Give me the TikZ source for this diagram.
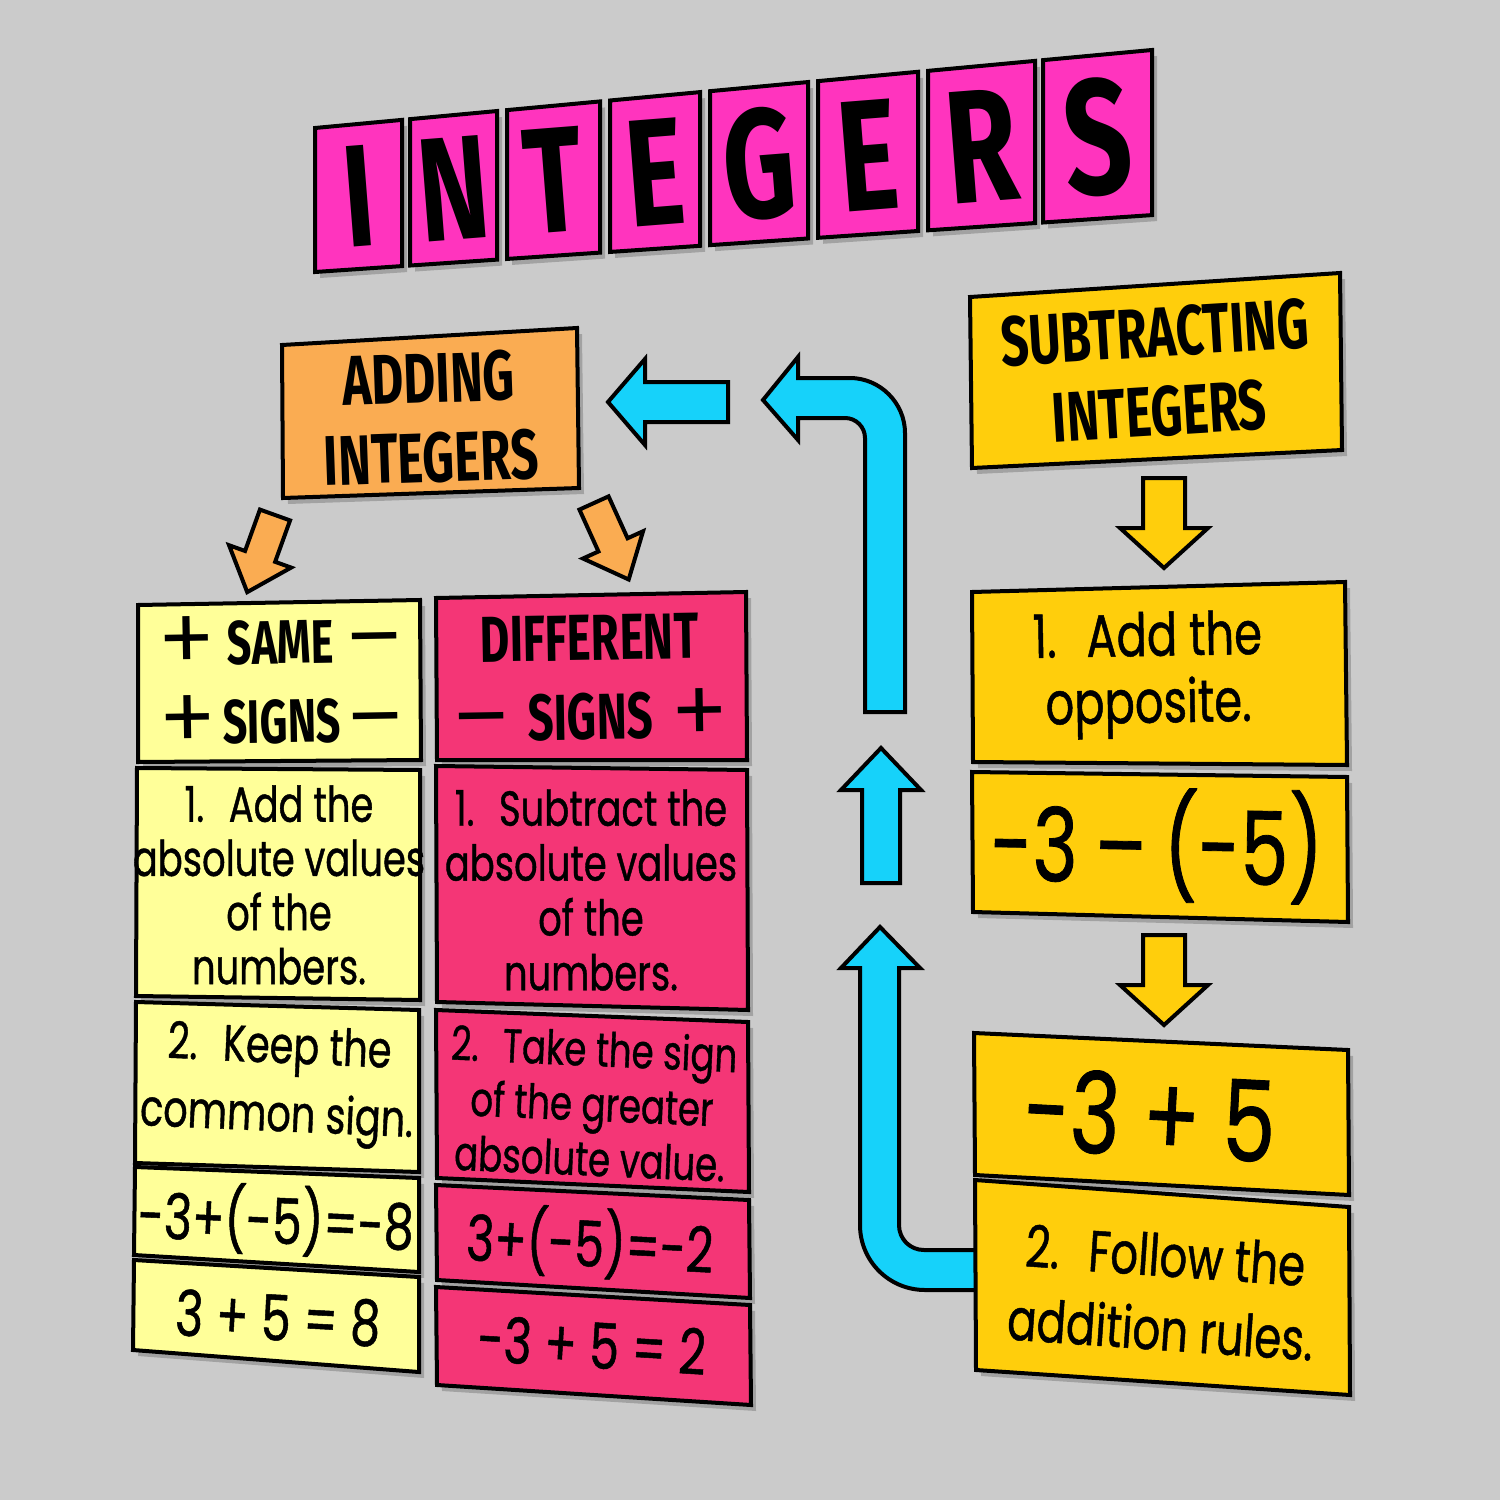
\documentclass[tikz,border=0pt]{standalone}
\usepackage{fontspec}
\setmainfont{Poppins}
\newfontfamily\titlefont[FakeStretch=0.72]{Fira Sans}
\newfontfamily\headfont[FakeStretch=0.7]{Fira Sans}
\newfontfamily\bodyfont[FakeStretch=0.75,FakeBold=0.8]{Poppins}
\newfontfamily\signfont{Poppins}

\definecolor{board}{RGB}{203,203,203}
\definecolor{tilepink}{RGB}{255,52,190}
\definecolor{addorange}{RGB}{250,172,82}
\definecolor{sameyellow}{RGB}{255,255,153}
\definecolor{diffpink}{RGB}{244,54,118}
\definecolor{subgold}{RGB}{255,206,12}
\definecolor{arrowcyan}{RGB}{22,210,250}

\tikzset{
  card/.style={draw=black,line width=0.4mm,line join=miter},
  cast/.style={fill=black,opacity=0.2},
  tile/.style={card,fill=tilepink},
  titleletter/.style={font=\titlefont\bfseries\fontsize{41}{41}\selectfont,rotate=4.5,inner sep=0pt},
  headtext/.style={font=\headfont\bfseries\fontsize{#1}{22.5}\selectfont,align=center,inner sep=0pt},
  bodytext/.style 2 args={font=\bodyfont\fontsize{#1}{#2}\selectfont,align=center,inner sep=0pt},
  sumtext/.style={font=\bodyfont\fontsize{#1}{#1}\selectfont,inner sep=0pt},
  fatline/.style={draw=black,line width=0.4mm,line join=miter,fill=#1}
}

% large thin sign for the heading cards
\newcommand{\bigsign}[2]{\smash{\raisebox{#2}{\signfont\mdseries\fontsize{24}{20}\selectfont #1}}}

% card with its shadow: fill, then the four corners
\newcommand{\card}[5]{%
  \fill[cast,shift={(5,6)}] #2 -- #3 -- #4 -- #5 -- cycle;
  \filldraw[card,fill=#1] #2 -- #3 -- #4 -- #5 -- cycle;}

% straight fat arrow: colour, start, angle, length, shaft half, head half, head length
\newcommand{\fatarrow}[7]{%
  \begin{scope}[shift={#2},rotate=#3]
    \filldraw[fatline=#1] (0,-#5) -- ({#4-#7},-#5) -- ({#4-#7},-#6) -- (#4,0)
      -- ({#4-#7},#6) -- ({#4-#7},#5) -- (0,#5) -- cycle;
  \end{scope}}

\begin{document}
\begin{tikzpicture}[x=0.01cm,y=-0.01cm]

  \fill[board] (0,0) rectangle (1500,1500);
  \useasboundingbox (0,0) rectangle (1500,1500);

  % title tiles
  \foreach \a/\b/\l [count=\i] in {315/402/I,410/497/N,507/600/T,610/700/E,710/808/G,818/918/E,928/1035/R,1043/1152/S}{
    \pgfmathsetmacro\ta{128-0.0932*(\a-315)}
    \pgfmathsetmacro\tb{128-0.0932*(\b-315)}
    \pgfmathsetmacro\ba{272-0.068*(\a-315)}
    \pgfmathsetmacro\bb{272-0.068*(\b-315)}
    \pgfmathsetmacro\hh{(\ba+\bb-\ta-\tb)/288}
    \card{tilepink}{(\a,\ta)}{(\b,\tb)}{(\b,\bb)}{(\a,\ba)}
    \node[titleletter,scale=\hh] (letter\i) at ({(\a+\b)/2},{(\ta+\tb+\ba+\bb)/4}) {\l};
  }

  % arrows
  \fatarrow{addorange}{(275,515)}{250.2}{82}{16}{33}{38}
  \fatarrow{addorange}{(594,503)}{294.4}{84}{16}{33}{38}
  \fatarrow{subgold}{(1164,478)}{270}{90}{21}{44}{40}
  \fatarrow{subgold}{(1164,935)}{270}{90}{21}{44}{40}
  \fatarrow{arrowcyan}{(728,402)}{180}{120}{20}{43}{37}
  \fatarrow{arrowcyan}{(881,883)}{90}{135}{19}{40}{42}

  \filldraw[fatline=arrowcyan] (865,712) -- (865,438) .. controls (865,427) and (856,418) .. (845,418)
    -- (798,418) -- (798,440) -- (763,400) -- (798,357) -- (798,378) -- (850,378)
    .. controls (880,378) and (905,403) .. (905,433) -- (905,712) -- cycle;
  \filldraw[fatline=arrowcyan] (899,968) -- (899,1225) .. controls (899,1239) and (910,1250) .. (924,1250)
    -- (985,1250) -- (985,1290) -- (925,1290) .. controls (889,1290) and (860,1261) .. (860,1225)
    -- (860,968) -- (841,968) -- (880,927) -- (920,968) -- cycle;

  % cards
  \card{addorange}{(282,345)}{(577,328)}{(579,488)}{(283,498)}
  \card{subgold}{(970,297)}{(1340,273)}{(1342,450)}{(972,468)}

  \card{sameyellow}{(138,605)}{(420,600)}{(421,760)}{(138,762)}
  \card{sameyellow}{(137,768)}{(420,770)}{(420,1000)}{(136,996)}
  \card{sameyellow}{(136,1002)}{(419,1010)}{(419,1172)}{(135,1163)}
  \card{sameyellow}{(135,1167)}{(419,1178)}{(419,1272)}{(134,1255)}
  \card{sameyellow}{(134,1260)}{(419,1277)}{(419,1372)}{(133,1350)}

  \card{diffpink}{(436,598)}{(746,592)}{(747,760)}{(437,760)}
  \card{diffpink}{(436,766)}{(747,770)}{(748,1010)}{(437,1002)}
  \card{diffpink}{(436,1010)}{(748,1022)}{(749,1192)}{(437,1178)}
  \card{diffpink}{(436,1185)}{(749,1200)}{(750,1298)}{(437,1280)}
  \card{diffpink}{(436,1287)}{(750,1305)}{(751,1405)}{(437,1385)}

  \card{subgold}{(972,592)}{(1345,582)}{(1347,765)}{(973,762)}
  \card{subgold}{(972,772)}{(1347,777)}{(1348,922)}{(973,912)}
  \card{subgold}{(974,1033)}{(1348,1050)}{(1349,1195)}{(975,1175)}
  \card{subgold}{(975,1180)}{(1349,1207)}{(1350,1395)}{(976,1370)}

  % texts
  \node[headtext=20,rotate=2] (addhead) at (430,418) {ADDING\\INTEGERS};
  \node[headtext=20,rotate=3.5] (subhead) at (1157,372) {SUBTRACTING\\INTEGERS};
  \node[headtext=17.5,rotate=1] (samehead) at (281,682)
    {\makebox[2.45cm]{\bigsign{+}{-1pt}\hfill SAME\hfill\bigsign{–}{-1.5pt}}\\
     \makebox[2.45cm]{\bigsign{+}{-1pt}\hfill SIGNS\hfill\bigsign{–}{-1.5pt}}};
  \node[headtext=18.5,rotate=1] (diffhead) at (590,678)
    {DIFFERENT\\\makebox[2.75cm]{\bigsign{–}{-1.5pt}\hfill SIGNS\hfill\bigsign{+}{-1pt}}};

  \node[bodytext={14}{15.4}] (samestep1) at (279,885) {1.\enspace Add the\\absolute values\\of the\\numbers.};
  \node[bodytext={14}{15.6}] (diffstep1) at (591,890) {1.\enspace Subtract the\\absolute values\\of the\\numbers.};
  \node[bodytext={14.5}{19.4},rotate=-2.5] (samestep2) at (278,1085) {2.\enspace Keep the\\common sign.};
  \node[bodytext={13.5}{15.6}, rotate=-2.5] (diffstep2) at (592,1103) {2.\enspace Take the sign\\of the greater\\absolute value.};

  \node[sumtext=18,rotate=-2.5] (sameex1) at (276,1220) {-3+(-5)=-8};
  \node[sumtext=18,rotate=-3] (sameex2) at (278,1318) {3 + 5 = 8};
  \node[sumtext=18,rotate=-3] (diffex1) at (590,1243) {3+(-5)=-2};
  \node[sumtext=18,rotate=-3.5] (diffex2) at (592,1345) {-3 + 5 = 2};

  \node[bodytext={17}{19},rotate=1] (substep1) at (1148,675) {1.\enspace Add the\\opposite.};
  \node[sumtext=29,rotate=-1] (subex1) at (1157,845) {-3\,–\,(-5)};
  \node[sumtext=32,rotate=-3] (subex2) at (1150,1115) {-3 + 5};
  \node[bodytext={16.5}{21},rotate=-4] (substep2) at (1163,1292) {2.\enspace Follow the\\addition rules.};

\end{tikzpicture}
\end{document}
